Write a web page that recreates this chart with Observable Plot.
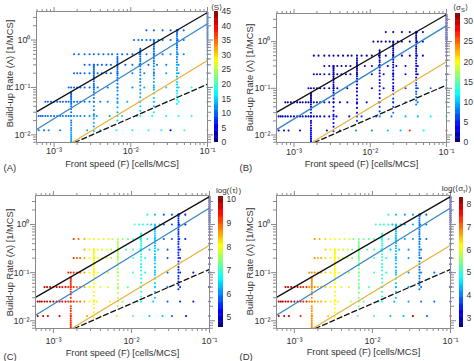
<!DOCTYPE html>
<html><head><meta charset="utf-8">
<script src="https://cdn.jsdelivr.net/npm/d3@7"></script>
<script src="https://cdn.jsdelivr.net/npm/@observablehq/plot@0.6"></script>
<style>
html,body{margin:0;padding:0;background:#fff;}
#fig{position:relative;width:474px;height:361px;overflow:hidden;background:#fff;}
#fig svg{position:absolute;left:0;top:0;}
</style></head><body><div id="fig"></div>
<script>
// ---------- data ----------
const xTitle = "Front speed (F) [cells/MCS]";
const yTitle = "Build-up Rate (\u039B) [1/MCS]";
const xMajor = [1e-3, 1e-2, 1e-1];
const yMajor = [1e-2, 1e-1, 1];
const xMinor = [6e-4,7e-4,8e-4,9e-4,2e-3,3e-3,4e-3,5e-3,6e-3,7e-3,8e-3,9e-3,2e-2,3e-2,4e-2,5e-2,6e-2,7e-2,8e-2,9e-2];
const yMinor = [7e-3,8e-3,9e-3,2e-2,3e-2,4e-2,5e-2,6e-2,7e-2,8e-2,9e-2,0.2,0.3,0.4,0.5,0.6,0.7,0.8,0.9,2,3];

// grid rows: build-up rate and the front speeds sampled on that row
const rowLambda = [0.0125, 0.025, 0.05, 0.1, 0.2, 0.3, 0.5, 1.0, 1.6];
const rowF = [
  [6.3e-4,7.4e-4,8.5e-4,1.2e-3,1.67e-3,2.7e-3,4e-3,6.5e-3,1.05e-2,1.7e-2,2.5e-2,3.3e-2,5e-2,0.1],
  [6.3e-4,6.7e-4,7.1e-4,7.7e-4,8.3e-4,9.1e-4,1e-3,1.1e-3,1.2e-3,1.3e-3,1.43e-3,1.55e-3,1.67e-3,1.82e-3,2e-3,2.2e-3,2.5e-3,2.9e-3,3.3e-3,3.6e-3,5.3e-3,7.7e-3,1.2e-2,1.9e-2,2.9e-2,4.2e-2,6.2e-2,0.1],
  [7.7e-4,8.3e-4,9.1e-4,1e-3,1.1e-3,1.2e-3,1.3e-3,1.43e-3,1.55e-3,1.67e-3,1.82e-3,2e-3,2.2e-3,2.5e-3,2.9e-3,3.3e-3,4e-3,5e-3,6.7e-3,9e-3,1.3e-2,2e-2,2.9e-2,4.2e-2,0.1],
  [1.55e-3,1.67e-3,1.82e-3,2e-3,2.2e-3,2.5e-3,2.9e-3,3.3e-3,3.7e-3,5e-3,6.7e-3,1.05e-2,1.5e-2,2e-2,2.9e-2,4.2e-2,6.2e-2,0.1],
  [1.82e-3,2e-3,2.2e-3,2.5e-3,2.9e-3,3.3e-3,3.7e-3,4.2e-3,4.8e-3,5.5e-3,6.7e-3,1.05e-2,1.5e-2,2e-2,2.9e-2,4.2e-2,0.1],
  [2.5e-3,2.9e-3,3.3e-3,3.7e-3,4.2e-3,4.8e-3,5.5e-3,6.7e-3,8.5e-3,1.05e-2,1.3e-2,1.7e-2,2.2e-2,2.9e-2,4.2e-2],
  [1.82e-3,2.1e-3,2.5e-3,2.9e-3,3.3e-3,3.8e-3,4.4e-3,5.1e-3,5.7e-3,6.7e-3,7.7e-3,9e-3,1.05e-2,1.3e-2,1.6e-2,2e-2,2.6e-2,3.3e-2,4.1e-2,4.9e-2],
  [1.1e-2,1.26e-2,1.4e-2,1.6e-2,1.8e-2,2e-2,2.3e-2,2.6e-2,3.3e-2,4.1e-2,4.9e-2],
  [1.6e-2,2e-2,2.6e-2,3.3e-2,4.1e-2,4.9e-2]
];
// dense vertical strips: front speed and the build-up rates sampled there
const stripF = [1.67e-3, 3.3e-3, 6.7e-3, 1.33e-2, 2e-2, 4e-2, 0.1];
const stripLambda = [
  [0.0072,0.0078,0.0085,0.0093,0.0102,0.0112,0.0125,0.014,0.016,0.018,0.02,0.025,0.03,0.035,0.04,0.045,0.05,0.055,0.06,0.065,0.07,0.075,0.08],
  [0.012,0.015,0.018,0.022,0.027,0.033,0.04,0.05,0.06,0.07,0.08,0.09,0.1,0.11,0.12,0.135,0.15,0.165,0.18,0.2,0.22,0.24,0.26,0.28,0.3],
  [0.02,0.025,0.03,0.038,0.047,0.058,0.07,0.085,0.1,0.12,0.14,0.16,0.18,0.2,0.22,0.245,0.27,0.3,0.33,0.36,0.4,0.44],
  [0.025,0.032,0.04,0.05,0.062,0.075,0.09,0.11,0.13,0.15,0.18,0.21,0.24,0.28,0.32,0.36,0.4,0.45,0.5,0.55,0.6,0.65],
  [0.03,0.04,0.05,0.06,0.075,0.09,0.11,0.13,0.155,0.18,0.21,0.24,0.28,0.32,0.36,0.41,0.46,0.52,0.58,0.65,0.72,0.8,0.88,0.96],
  [0.045,0.055,0.065,0.075,0.085,0.1,0.115,0.13,0.15,0.17,0.2,0.23,0.26,0.3,0.34,0.39,0.44,0.5,0.56,0.63,0.7,0.78,0.87,0.97,1.08,1.2,1.33,1.47,1.62],
  [0.05,0.1,0.15,0.2,0.3,0.4,0.5,0.6,0.7,0.8,0.9,1.0,1.1,1.2,1.3,1.42,1.55,1.7,1.85,2.0,2.2,2.4,2.6,2.85,3.1,3.4,3.7]
];
// <S> and sigma_S read by ratio Lambda/F
const ratioBreaks   = [0, 0.5, 1, 2, 4, 8, 16, 32];
const meanS         = [19, 18, 17, 15, 13, 11.5, 10.5, 10];
const sigmaS        = [12, 10, 8, 6, 4, 3, 2, 1.5];
// log<tau> and log sigma_tau read by front speed
const tauF          = [6.3e-4,1e-3,1.43e-3,1.67e-3,2e-3,2.5e-3,3.3e-3,4.5e-3,6.7e-3,1e-2,1.33e-2,2e-2,3.3e-2,4e-2,5e-2,0.1];
const logTau        = [9.8,9.7,9.5,9.2,8.9,8.5,8.1,7.9,7.6,7.1,6.8,6.4,5.8,5.5,5.4,5.0];
const logSigmaTau   = [8.0,7.9,7.4,6.8,6.6,6.4,6.2,5.9,5.4,5.2,5.0,4.4,4.2,4.0,3.9,3.1];
// isolated outliers
const specialF      = [0.033, 0.1];
const specialLambda = [0.0125, 0.0125];
const specialS      = [3, 33];
const specialSigmaS = [27, 26];
const specialSigmaT = [8.1, 7.8];

// reference lines (end points)
const blackF = [5.9e-4, 0.1],   blackL = [0.0305, 3.8];
const blueF  = [5.9e-4, 0.1],   blueL  = [0.013, 2.2];
const goldF  = [1.72e-3, 0.1],  goldL  = [0.0069, 0.37];
const dashF  = [1.85e-3, 0.1],  dashL  = [0.0069, 0.117];

// colour bars (title = [before subscript, subscript, after])
const cbS    = {domain:[0,45],       ticks:[0,5,10,15,20,25,30,35,40,45], title:["\u27E8S\u27E9", "", ""]};
const cbSS   = {domain:[0,32],       ticks:[0,5,10,15,20,25,30],          title:["\u27E8\u03C3", "S", "\u27E9"]};
const cbTau  = {domain:[4.58,10.13], ticks:[5,6,7,8,9,10],                title:["log(\u27E8\u03C4\u27E9)", "", ""]};
const cbSTau = {domain:[2.58,8.32],  ticks:[3,4,5,6,7,8],                 title:["log(\u27E8\u03C3", "\u03C4", "\u27E9)"]};

// ---------- build points ----------
function nearest(F) {
  let best = 0;
  tauF.forEach((f, i) => { if (Math.abs(Math.log(F / f)) < Math.abs(Math.log(F / tauF[best]))) best = i; });
  return best;
}
const points = [];
rowLambda.forEach((L, i) => rowF[i].forEach(F => points.push({F, L})));
stripF.forEach((F, i) => stripLambda[i].forEach(L => points.push({F, L})));
points.forEach(p => {
  const k = d3.bisectRight(ratioBreaks, p.L / p.F) - 1;
  p.S = meanS[k]; p.sS = sigmaS[k];
  const j = nearest(p.F);
  p.tau = logTau[j]; p.stau = logSigmaTau[j];
  specialF.forEach((f, s) => {
    if (Math.abs(f - p.F) / f < 0.02 && Math.abs(specialLambda[s] - p.L) / p.L < 0.02) {
      p.S = specialS[s]; p.sS = specialSigmaS[s]; p.stau = specialSigmaT[s];
    }
  });
});
const mkLine = (F, L) => F.map((f, i) => ({F: f, L: L[i]}));
const lines = {
  black: mkLine(blackF, blackL), blue: mkLine(blueF, blueL),
  gold: mkLine(goldF, goldL), dash: mkLine(dashF, dashL)
};

// ---------- drawing ----------
const W = 474, H = 361;
const xDomain = [5.9e-4, 0.1], yDomain = [0.0069, 4.0];
const jet = d3.piecewise(d3.interpolateRgb, ["#00007f","#0000ff","#007fff","#00ffff","#7fff7f","#ffff00","#ff7f00","#ff0000","#7f0000"]);
const FONT = "'Liberation Sans', Arial, sans-serif";
const axisGray = "#8a8a8a", textCol = "#333";
const baseStyle = {background: "transparent", fontFamily: FONT, fontSize: "9px", color: textCol, overflow: "visible"};
const supMap = {"-":"\u207B","0":"\u2070","1":"\u00B9","2":"\u00B2","3":"\u00B3"};
const pow10 = d => "10" + String(Math.round(Math.log10(d))).replace(/./g, c => supMap[c]);
const blank = () => "";

const panels = [
  {frame:[36,207,11,142],  key:"S",    cb:cbS,    tag:"(A)", xLab:153.3, xTit:166,   tagX:3,   tagY:164,   yTitX:6,   yTitY:73,  cbFrame:[214,218,11,142], titleXY:[216,4]},
  {frame:[276,446,13,142], key:"sS",   cb:cbSS,   tag:"(B)", xLab:154,   xTit:166.7, tagX:239, tagY:163.5, yTitX:246, yTitY:77,  cbFrame:[455,460,13,142], titleXY:[460,4]},
  {frame:[35,209,195,328], key:"tau",  cb:cbTau,  tag:"(C)", xLab:343.3, xTit:355,   tagX:3,   tagY:352.7, yTitX:6,   yTitY:262, cbFrame:[218,223,196,327], titleXY:[228,187]},
  {frame:[276,450,195,328],key:"stau", cb:cbSTau, tag:"(D)", xLab:343,   xTit:354.5, tagX:239, tagY:352.5, yTitX:246, yTitY:261, cbFrame:[459,463,197,327], titleXY:[456,185]}
];

const fig = document.getElementById("fig");

panels.forEach(p => {
  const [x0, x1, y0, y1] = p.frame;
  const tickOpts = {stroke: axisGray, label: null, tickFormat: blank};
  const svg = Plot.plot({
    width: W, height: H,
    marginLeft: x0, marginRight: W - x1, marginTop: y0, marginBottom: H - y1,
    style: baseStyle,
    x: {type: "log", domain: xDomain},
    y: {type: "log", domain: yDomain},
    color: {type: "linear", domain: p.cb.domain, interpolate: jet, clamp: true},
    marks: [
      Plot.dot(points, {x: "F", y: "L", r: 1.05, fill: p.key, stroke: null}),
      Plot.line(lines.gold,  {x: "F", y: "L", stroke: "#e8b23a", strokeWidth: 1.3}),
      Plot.line(lines.dash,  {x: "F", y: "L", stroke: "#111", strokeWidth: 1.3, strokeDasharray: "5,3"}),
      Plot.line(lines.blue,  {x: "F", y: "L", stroke: "#3585c8", strokeWidth: 1.3}),
      Plot.line(lines.black, {x: "F", y: "L", stroke: "#111", strokeWidth: 1.3}),
      Plot.frame({stroke: axisGray}),
      Plot.axisX({anchor: "bottom", ticks: xMajor, tickSize: 5, ...tickOpts}),
      Plot.axisX({anchor: "bottom", ticks: xMinor, tickSize: 3, ...tickOpts}),
      Plot.axisX({anchor: "top", ticks: xMajor, tickSize: 5, ...tickOpts}),
      Plot.axisX({anchor: "top", ticks: xMinor, tickSize: 3, ...tickOpts}),
      Plot.axisY({anchor: "left", ticks: yMajor, tickSize: 5, ...tickOpts}),
      Plot.axisY({anchor: "left", ticks: yMinor, tickSize: 3, ...tickOpts}),
      Plot.axisY({anchor: "right", ticks: yMajor, tickSize: 5, ...tickOpts}),
      Plot.axisY({anchor: "right", ticks: yMinor, tickSize: 3, ...tickOpts}),
      Plot.text(xMajor, {x: d => d, frameAnchor: "bottom", dy: p.xLab - y1, text: pow10, fill: textCol, fontSize: 9}),
      Plot.text(yMajor, {y: d => d, frameAnchor: "left", dx: -6, textAnchor: "end", text: pow10, fill: textCol, fontSize: 9}),
      Plot.text([xTitle], {frameAnchor: "bottom", dy: p.xTit - y1, text: d => d, fill: textCol, fontSize: 9.3}),
      Plot.text([yTitle], {frameAnchor: "top-left", dx: p.yTitX - x0, dy: p.yTitY - y0, rotate: -90, textAnchor: "middle", text: d => d, fill: textCol, fontSize: 9.3}),
      Plot.text([p.tag], {frameAnchor: "top-left", dx: p.tagX - x0, dy: p.tagY - y0, textAnchor: "start", text: d => d, fill: textCol, fontSize: 9.5})
    ]
  });
  fig.appendChild(svg);

  // colour bar
  const [c0, c1, d0, d1] = p.cbFrame;
  const [lo, hi] = p.cb.domain;
  const n = 150, step = (hi - lo) / n;
  const steps = d3.range(n).map(i => lo + i * step);
  const full = p.cb.title.join("");
  const bar = Plot.plot({
    width: W, height: H,
    marginLeft: c0, marginRight: W - c1, marginTop: d0, marginBottom: H - d1,
    style: baseStyle,
    x: {domain: [0, 1], axis: null},
    y: {domain: [lo, hi], axis: null},
    color: {type: "linear", domain: [lo, hi], interpolate: jet},
    marks: [
      Plot.rect(steps, {x1: 0, x2: 1, y1: d => d, y2: d => Math.min(hi, d + step * 1.6), fill: d => d + step / 2}),
      Plot.text(p.cb.ticks, {y: d => d, frameAnchor: "right", dx: 3, textAnchor: "start", text: d => String(d), fill: textCol, fontSize: 8.5}),
      Plot.text([full], {frameAnchor: "top-left", dx: p.titleXY[0] - c0, dy: p.titleXY[1] - d0, textAnchor: "middle", text: d => d, fill: textCol, fontSize: 8})
    ]
  });
  // render subscripts of the colour-bar title as real tspans
  if (p.cb.title[1]) {
    bar.querySelectorAll("text").forEach(t => {
      if (t.textContent === full) {
        const [a, s, b] = p.cb.title;
        t.textContent = "";
        const ns = "http://www.w3.org/2000/svg";
        const t1 = document.createElementNS(ns, "tspan"); t1.textContent = a;
        const t2 = document.createElementNS(ns, "tspan"); t2.textContent = s;
        t2.setAttribute("dy", "2"); t2.setAttribute("font-size", "6");
        const t3 = document.createElementNS(ns, "tspan"); t3.textContent = b;
        t3.setAttribute("dy", "-2");
        t.append(t1, t2, t3);
      }
    });
  }
  fig.appendChild(bar);
});
</script></body></html>
